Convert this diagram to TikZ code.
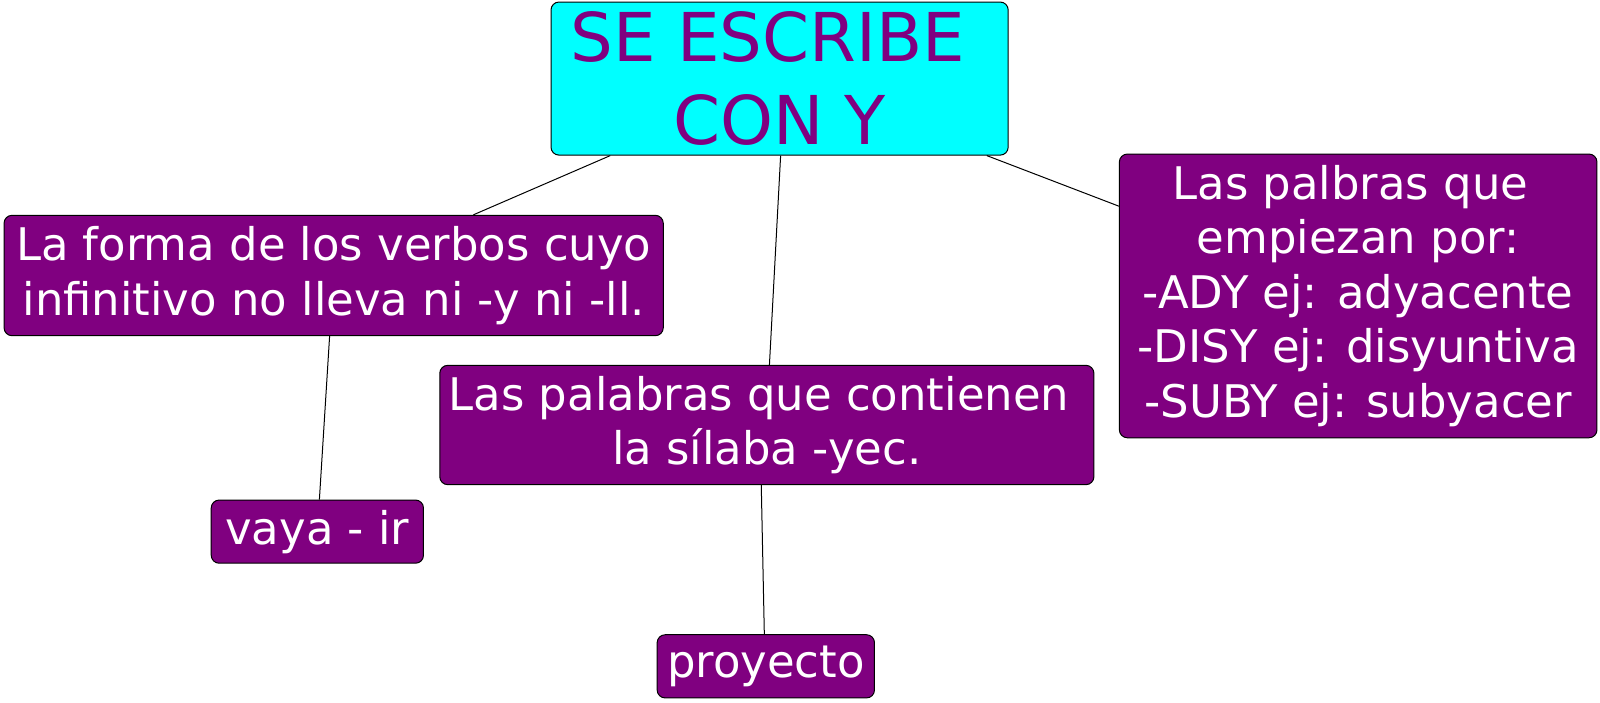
\documentclass[tikz,border=0pt]{standalone}
\usepackage{fontspec}
\setmainfont{DejaVu Sans}
\usetikzlibrary{calc, positioning}
\definecolor{morado}{RGB}{128,0,128}
\definecolor{celeste}{RGB}{0,255,255}
\begin{document}
\begin{tikzpicture}[x=0.7653pt, y=-0.7653pt,
  n/.style={rectangle, draw=black, line width=0.75pt, rounded corners=6pt, fill=morado, text=white, align=center, inner sep=0pt, font=\fontsize{33.7}{40.8}\selectfont},
  l/.style={draw=black, line width=0.75pt}]
  \useasboundingbox (0,0) rectangle (1568,688);
  \node[n, fill=celeste, text=morado, minimum width=342.9pt, minimum height=114.8pt, font=\fontsize{50.5}{62.8}\selectfont] (raiz) at (764,77) {SE ESCRIBE\kern0.35em\\CON Y};
  \node[n, minimum width=494.4pt, minimum height=90.3pt] (forma) at (327,270) {La forma de los verbos cuyo\\infinitivo no lleva ni -y ni -ll.};
  \node[n, minimum width=490.6pt, minimum height=89.5pt] (silaba) at (751.5,416.5) {Las palabras que contienen\kern0.35em\\la sílaba -yec.};
  \node[n, minimum width=358.2pt, minimum height=212.8pt] (palabras) at (1331,290) {Las palbras que\kern0.35em\\empiezan por:\\-ADY ej: adyacente\\-DISY ej: disyuntiva\\-SUBY ej: subyacer};
  \node[n, minimum width=159.2pt, minimum height=47.4pt] (vaya) at (311,521) {vaya - ir};
  \node[n, minimum width=163pt, minimum height=47.4pt] (proyecto) at (750.5,653) {proyecto};
  \draw[l] ([xshift=-127pt]raiz.south) -- ([xshift=104.8pt]forma.north);
  \draw[l] ([xshift=0.77pt]raiz.south) -- ([xshift=1.94pt]silaba.north);
  \draw[l] ([xshift=155.4pt]raiz.south) -- ([yshift=67.3pt]palabras.west);
  \draw[l] ([xshift=-3.06pt]forma.south) -- ([xshift=1.53pt]vaya.north);
  \draw[l] ([xshift=-4.18pt]silaba.south) -- ([xshift=-1.12pt]proyecto.north);
\end{tikzpicture}
\end{document}
